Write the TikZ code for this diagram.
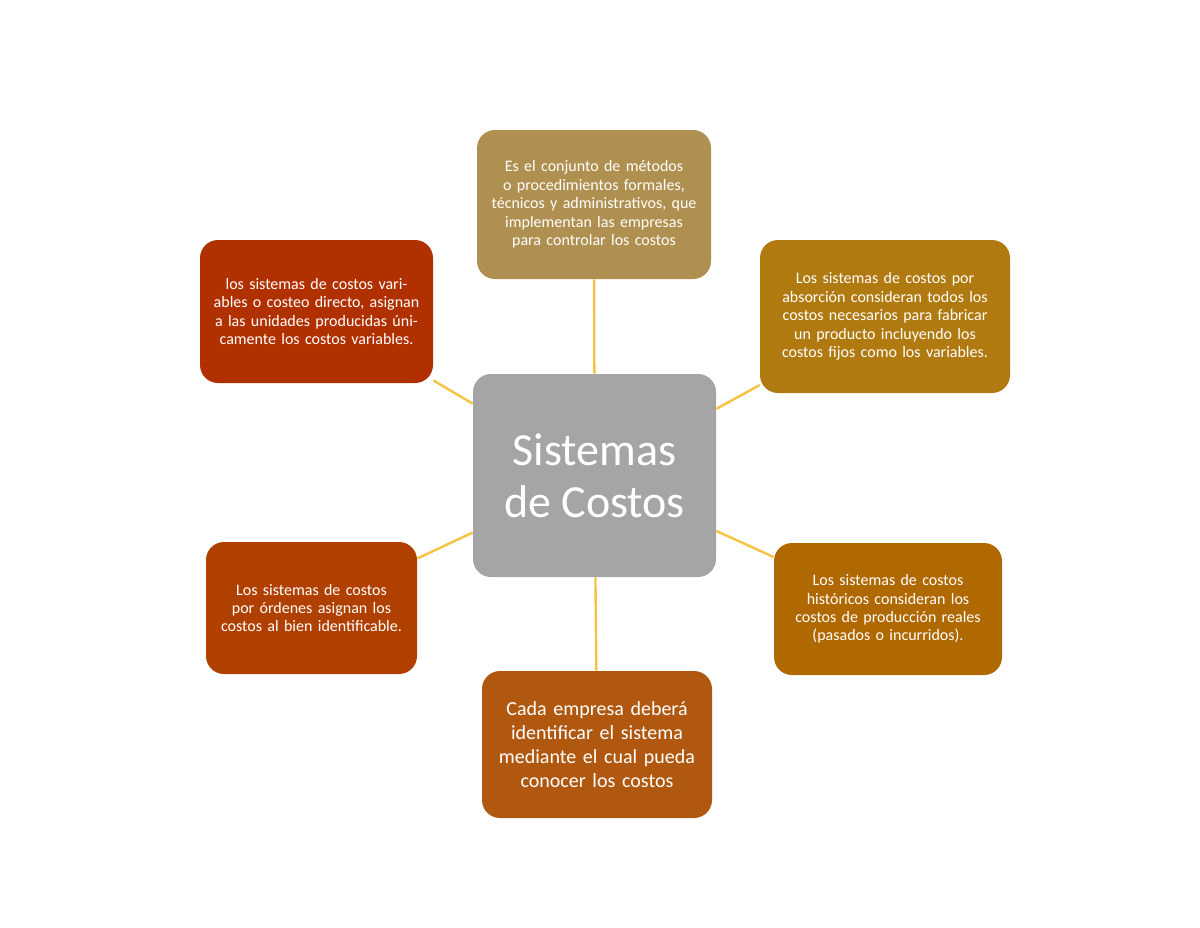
\documentclass[tikz,border=0pt]{standalone}
\usepackage{fontspec}
\setmainfont{Carlito}
\begin{document}
\begin{tikzpicture}[x=0.5pt,y=-0.5pt,
  box/.style={rounded corners=9pt,text=white,align=center,inner sep=2pt,font=\fontsize{8}{9.2}\selectfont},
  conn/.style={draw={rgb,255:red,245;green,194;blue,66},line width=1.2pt}]
\definecolor{cgray}{RGB}{165,165,165}
\definecolor{ctop}{RGB}{176,144,80}
\definecolor{crt}{RGB}{176,122,16}
\definecolor{crb}{RGB}{176,104,0}
\definecolor{cbot}{RGB}{176,88,16}
\definecolor{clb}{RGB}{176,64,0}
\definecolor{clt}{RGB}{176,48,0}
\useasboundingbox (0,0) rectangle (1200,927);
\node[box,fill=cgray,minimum width=121.5pt,minimum height=101.5pt,font=\fontsize{23}{26}\selectfont] (c) at (594.5,475.5) {Sistemas\\de Costos};
\node[box,fill=ctop,minimum width=117pt,minimum height=74.5pt,text width=110pt] (t) at (594,204.5) {Es el conjunto de métodos o procedimientos formales, técnicos y administrativos, que implementan las empresas para controlar los costos};
\node[box,fill=crt,minimum width=125pt,minimum height=76.5pt,text width=112pt] (rt) at (885,316.5) {Los sistemas de costos por absorción consideran todos los costos necesarios para fabricar un producto incluyendo los costos fijos como los variables.};
\node[box,fill=crb,minimum width=114pt,minimum height=66pt,text width=100pt] (rb) at (888,609) {Los sistemas de costos históricos consideran los costos de producción reales (pasados o incurridos).};
\node[box,fill=cbot,minimum width=115pt,minimum height=73.5pt,text width=100pt,font=\fontsize{10}{12}\selectfont] (b) at (597,744.5) {Cada empresa deberá identificar el sistema mediante el cual pueda conocer los costos};
\node[box,fill=clb,minimum width=105.5pt,minimum height=66pt,text width=95pt] (lb) at (311.5,608) {Los sistemas de costos por órdenes asignan los costos al bien identificable.};
\node[box,fill=clt,minimum width=116.5pt,minimum height=71.5pt,text width=104pt] (lt) at (316.5,311.5) {los sistemas de costos variables o costeo directo, asignan a las unidades producidas únicamente los costos variables.};
\draw[conn] (c) -- (t);
\draw[conn] (c) -- (rt);
\draw[conn] (c) -- (rb);
\draw[conn] (c) -- (b);
\draw[conn] (c) -- (lb);
\draw[conn] (c) -- (lt);
\end{tikzpicture}
\end{document}
